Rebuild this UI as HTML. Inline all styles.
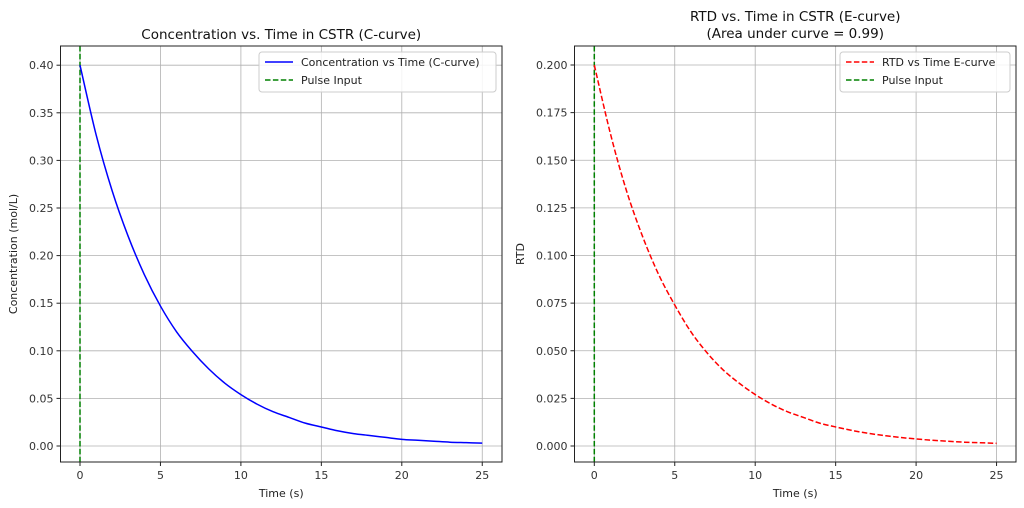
<!DOCTYPE html>
<html><head><meta charset="utf-8"><style>
body{margin:0;background:#fff;}
svg{display:block;font-family:"DejaVu Sans","Liberation Sans",sans-serif;}
</style></head><body>
<svg id="fig" width="1024" height="508" viewBox="0 0 1024 508"></svg>
<script>
const times=[0,1,2,3,4,5,6,7,8,9,10,11,12,13,14,15,16,17,18,19,20,21,22,23,24,25];
const concValues=[0.400,0.327,0.268,0.220,0.180,0.147,0.120,0.099,0.081,0.066,0.054,0.044,0.036,0.030,0.024,0.020,0.016,0.013,0.011,0.009,0.007,0.006,0.005,0.004,0.0035,0.003];
const rtdValues=[0.200,0.164,0.134,0.110,0.090,0.074,0.060,0.049,0.040,0.033,0.027,0.022,0.018,0.015,0.012,0.010,0.0082,0.0067,0.0055,0.0045,0.0037,0.003,0.0025,0.002,0.0017,0.0014];
const xTicks=[0,5,10,15,20,25];
const concTicks=[0.00,0.05,0.10,0.15,0.20,0.25,0.30,0.35,0.40];
const rtdTicks=[0.000,0.025,0.050,0.075,0.100,0.125,0.150,0.175,0.200];
const pulseTime=0;

const NS="http://www.w3.org/2000/svg";
const svg=document.getElementById('fig');
function mk(tag,attrs,parent,text){const e=document.createElementNS(NS,tag);for(const k in attrs)e.setAttribute(k,attrs[k]);if(text!==undefined)e.textContent=text;(parent||svg).appendChild(e);return e;}
function smoothPath(P){
  let d='M'+P[0][0].toFixed(2)+','+P[0][1].toFixed(2);
  for(let i=0;i<P.length-1;i++){
    const p0=P[Math.max(0,i-1)],p1=P[i],p2=P[i+1],p3=P[Math.min(P.length-1,i+2)];
    const c1=[p1[0]+(p2[0]-p0[0])/6,p1[1]+(p2[1]-p0[1])/6];
    const c2=[p2[0]-(p3[0]-p1[0])/6,p2[1]-(p3[1]-p1[1])/6];
    d+=` C${c1[0].toFixed(2)},${c1[1].toFixed(2)} ${c2[0].toFixed(2)},${c2[1].toFixed(2)} ${p2[0].toFixed(2)},${p2[1].toFixed(2)}`;
  }
  return d;
}

function panel(cfg){
  const g=mk('g',{});
  
  
  const L=cfg.left,R=cfg.right,T=46,B=462;
  const x0=cfg.x0,xs=16.09;
  const sx=t=>x0+t*xs;
  const y0=446,ys=cfg.ys;
  const sy=v=>y0-v*ys;
  xTicks.forEach(t=>{const l=mk('line',{x1:sx(t),x2:sx(t),y1:T,y2:B,stroke:'#b0b0b0','stroke-width':0.8},g);
    });
  cfg.yTicks.forEach(v=>{const l=mk('line',{x1:L,x2:R,y1:sy(v),y2:sy(v),stroke:'#b0b0b0','stroke-width':0.8},g);
    });
  const p=mk('line',{x1:sx(pulseTime),x2:sx(pulseTime),y1:T,y2:B,stroke:'#008000','stroke-width':1.5,'stroke-dasharray':'5.5,2.4'},g);
  
  const P=times.map((t,i)=>[sx(t),sy(cfg.values[i])]);
  const s=mk('path',{d:smoothPath(P),fill:'none',stroke:cfg.color,'stroke-width':1.5,'stroke-dasharray':cfg.dash||'none'},g);
  
  const f=mk('rect',{x:L,y:T,width:R-L,height:B-T,fill:'none',stroke:'#222','stroke-width':1},g);
  
  xTicks.forEach(t=>{mk('line',{x1:sx(t),x2:sx(t),y1:B,y2:B+4,stroke:'#222'},g);
    const tx=mk('text',{x:sx(t),y:B+17,'font-size':11,'text-anchor':'middle',fill:'#333'},g,String(t));
    });
  cfg.yTicks.forEach(v=>{mk('line',{x1:L-4,x2:L,y1:sy(v),y2:sy(v),stroke:'#222'},g);
    const tx=mk('text',{x:L-7,y:sy(v)+4,'font-size':11,'text-anchor':'end',fill:'#333'},g,v.toFixed(cfg.dec));
    });
  const xl=mk('text',{x:(L+R)/2,y:497,'font-size':11,'text-anchor':'middle',fill:'#222'},g,'Time (s)');
  
  const yl=mk('text',{x:0,y:0,'font-size':11,'text-anchor':'middle',fill:'#222',transform:`translate(${cfg.ylX},${(T+B)/2}) rotate(-90)`},g,cfg.ylabel);
  
  cfg.title.forEach((t,i)=>{const tt=mk('text',{x:(L+R)/2,y:cfg.titleY+i*17,'font-size':13.5,'text-anchor':'middle',fill:'#111'},g,t);
    });
  const lg=mk('g',{},g);
  mk('rect',{x:cfg.legX,y:52,width:R-6-cfg.legX,height:40,rx:3,fill:'#fff','fill-opacity':0.85,stroke:'#ccc'},lg);
  const e1=mk('g',{},lg);
  mk('line',{x1:cfg.legX+6,x2:cfg.legX+34,y1:62,y2:62,stroke:cfg.color,'stroke-width':1.5,'stroke-dasharray':cfg.dash||'none'},e1);
  mk('text',{x:cfg.legX+42,y:66,'font-size':11,fill:'#222'},e1,cfg.legendText);
  const e2=mk('g',{},lg);
  mk('line',{x1:cfg.legX+6,x2:cfg.legX+34,y1:80,y2:80,stroke:'#008000','stroke-width':1.5,'stroke-dasharray':'5.5,2.4'},e2);
  mk('text',{x:cfg.legX+42,y:84,'font-size':11,fill:'#222'},e2,'Pulse Input');
}
panel({name:'concentration-chart',left:60.5,right:502,x0:80,ys:952,yTicks:concTicks,dec:2,values:concValues,color:'#0000ff',
  seriesName:'concentration-curve',ylabel:'Concentration (mol/L)',ylX:17,title:['Concentration vs. Time in CSTR (C-curve)'],titleY:39,
  legX:259,legendText:'Concentration vs Time (C-curve)'});
panel({name:'rtd-chart',left:574.5,right:1016,x0:594.3,ys:1905,yTicks:rtdTicks,dec:3,values:rtdValues,color:'#ff0000',dash:'5.5,2.4',
  seriesName:'rtd-curve',ylabel:'RTD',ylX:524,title:['RTD vs. Time in CSTR (E-curve)','(Area under curve = 0.99)'],titleY:21,
  legX:840,legendText:'RTD vs Time E-curve'});
</script>
</body></html>
